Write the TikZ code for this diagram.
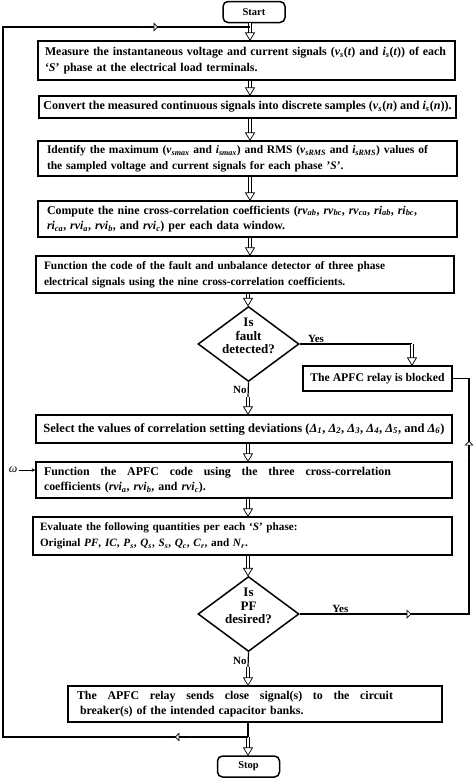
\documentclass[tikz,border=0pt]{standalone}
\usepackage{fontspec}
\setmainfont{Liberation Serif}
\usetikzlibrary{decorations.markings,shapes.geometric,shapes.arrows,arrows.meta}
\newcommand{\sbx}[2]{\textit{#1}\textsubscript{\textit{#2}}}
\newcommand{\jline}[2]{\makebox[#1][s]{\spaceskip=0pt\relax #2}}
\tikzset{
  every node/.style={font=\bfseries\fontsize{11.9}{15.5}\selectfont},
  procbox/.style={draw, line width=1.5pt, fill=white, inner xsep=7pt, inner ysep=1pt, align=left},
  onebox/.style={draw, line width=1.5pt, fill=white, inner sep=1pt, align=center},
  terminal/.style={draw, rounded corners=5pt, line width=1.5pt, fill=white, minimum width=62pt, minimum height=21pt, inner sep=0pt, font=\bfseries\fontsize{10.5}{12}\selectfont},
  decision/.style={diamond, draw, line width=1.5pt, fill=white, minimum width=101pt, minimum height=75pt, inner sep=0pt},
  dtext/.style={align=center, inner sep=0pt, font=\bfseries\fontsize{13}{13.8}\selectfont},
  conn/.style={draw, line width=1.2pt},
  flow/.style={preaction={draw, double=white, double distance=2.4pt, line width=0.7pt, shorten >=5pt},
    postaction={decorate, decoration={markings, mark=at position 1 with {\draw[line width=0.7pt, fill=white] (-7.5pt,-4.5pt) -- (0pt,0pt) -- (-7.5pt,4.5pt) -- cycle;}}}},
  midarr/.style={single arrow, draw, fill=white, line width=0.7pt, minimum height=15pt, minimum width=7.5pt, single arrow head extend=2.2pt, inner sep=0pt},
  lab/.style={inner sep=1pt, font=\bfseries\fontsize{11}{12}\selectfont},
}
\begin{document}
\begin{tikzpicture}[x=1pt,y=-1pt]
\useasboundingbox (0,0) rectangle (474,779);
\fill[white] (0,0) rectangle (474,779);

\coordinate (c1) at (250,0);
\coordinate (c2) at (248,0);
\coordinate (cL) at (3,0);
\coordinate (cR) at (469,0);
\coordinate (yx) at (412,0);
\coordinate (jT) at (250,27);
\coordinate (jB) at (248,737);
\coordinate (nd1) at (248,397);
\coordinate (nd2) at (248,667);

\node[terminal] (start) at (254,12) {Start};

\node[procbox, minimum width=417pt, minimum height=39pt, text width=403pt] (b1) at (246.5,60.5)
 {Measure the instantaneous voltage and current signals (\sbx{v}{s}(\textit{t}) and \sbx{i}{s}(\textit{t})) of each\\
 ‘\textit{S}’ phase at the electrical load terminals.};

\node[onebox, minimum width=417pt, minimum height=22pt, font=\bfseries\fontsize{12.1}{15}\selectfont] (b2) at (247.5,107)
 {Convert the measured continuous signals into discrete samples (\sbx{v}{s}(\textit{n}) and \sbx{i}{s}(\textit{n})).};

\node[procbox, inner xsep=9pt, minimum width=419pt, minimum height=35pt, text width=401pt, font=\bfseries\fontsize{11.5}{15.5}\selectfont] (b3) at (247.5,158.5)
 {Identify the maximum (\sbx{v}{smax} and \sbx{i}{smax}) and RMS (\sbx{v}{sRMS} and \sbx{i}{sRMS}) values of\\
 the sampled voltage and current signals for each phase ’\textit{S}’.};

\node[procbox, inner xsep=9pt, minimum width=419pt, minimum height=36pt, text width=401pt] (b4) at (247.5,219)
 {Compute the nine cross-correlation coefficients (\sbx{rv}{ab}, \sbx{rv}{bc}, \sbx{rv}{ca}, \sbx{ri}{ab}, \sbx{ri}{bc},\\
 \sbx{ri}{ca}, \sbx{rvi}{a}, \sbx{rvi}{b}, and \sbx{rvi}{c}) per each data window.};

\node[procbox, inner xsep=8pt, minimum width=418pt, minimum height=37pt, text width=402pt, font=\bfseries\fontsize{11.4}{15.5}\selectfont] (b5) at (245,274.5)
 {Function the code of the fault and unbalance detector of three phase\\
 electrical signals using the nine cross-correlation coefficients.};

\node[decision] (d1) at (248.5,344) {};
\node[dtext] (t1) at (248.5,336) {Is\\fault\\detected?};

\node[onebox, minimum width=149pt, minimum height=25pt, font=\bfseries\fontsize{11.7}{14}\selectfont] (relay) at (377.5,378.5) {The APFC relay is blocked};

\node[onebox, minimum width=416pt, minimum height=28pt, font=\bfseries\fontsize{12.5}{15}\selectfont] (b6) at (244,429)
 {Select the values of correlation setting deviations (\sbx{Δ}{1}, \sbx{Δ}{2}, \sbx{Δ}{3}, \sbx{Δ}{4}, \sbx{Δ}{5}, and \sbx{Δ}{6})};

\node[procbox, inner xsep=8pt, minimum width=416pt, minimum height=36pt, text width=400pt] (b7) at (244,480)
 {\jline{347pt}{Function the APFC code using the three cross-correlation}\\
 coefficients (\sbx{rvi}{a}, \sbx{rvi}{b}, and \sbx{rvi}{c}).};

\node[procbox, minimum width=419pt, minimum height=38pt, text width=405pt, font=\bfseries\fontsize{11.2}{15.5}\selectfont] (b8) at (242.5,536)
 {Evaluate the following quantities per each ‘\textit{S}’ phase:\\
 Original \textit{PF}, \textit{IC}, \sbx{P}{s}, \sbx{Q}{s}, \sbx{S}{s}, \sbx{Q}{c}, \sbx{C}{r}, and \sbx{N}{r}.};

\node[decision] (d2) at (248.5,614) {};
\node[dtext] (t2) at (248.5,606) {Is\\PF\\desired?};

\node[procbox, inner xsep=9pt, minimum width=374pt, minimum height=36pt, text width=356pt] (b9) at (255,704)
 {\jline{316pt}{The APFC relay sends close signal(s) to the circuit}\\
 \hspace*{3pt}breaker(s) of the intended capacitor banks.};

\node[terminal] (stop) at (248.5,766.5) {Stop};

\node[inner sep=0pt, font=\itshape\fontsize{12}{12}\selectfont] (om) at (13,470) {ω};

% main flow
\path[flow] (start.south -| c1) -- (b1.north -| c1);
\path[flow] (b1.south -| c1) -- (b2.north -| c1);
\path[flow] (b2.south -| c1) -- (b3.north -| c1);
\path[flow] (b3.south -| c1) -- (b4.north -| c1);
\path[flow] (b4.south -| c1) -- (b5.north -| c1);
\path[flow] (b5.south -| c2) -- (d1.north -| c2);
\draw[conn] (d1.south) -- node[lab, left, pos=0.55] (no1) {No} (nd1);
\path[flow] (nd1) -- (b6.north -| c2);
\draw[conn] (d1.east) -- node[lab, above right, pos=0.06] (yes1) {Yes} (d1.east -| yx);
\path[flow] (d1.east -| yx) -- (relay.north -| yx);
\path[flow] (b6.south -| c2) -- (b7.north -| c2);
\path[flow] (b7.south -| c2) -- (b8.north -| c2);
\path[flow] (b8.south -| c2) -- (d2.north -| c2);
\draw[conn] (d2.south) -- node[lab, left, pos=0.6] (no2) {No} (nd2);
\path[flow] (nd2) -- (b9.north -| c2);
\draw[conn] (b9.south -| c2) -- (jB);
\path[flow] (jB) -- (stop.north -| jB);

% right loop
\draw[conn] (d2.east) -- node[lab, above, pos=0.24] (yes2) {Yes}
  node[midarr, pos=0.61] (ar1) {} (d2.east -| cR)
  -- node[midarr, shape border rotate=90, pos=0.70] (ar2) {} (relay.east -| cR) -- (relay.east);

% left loop
\draw[conn] (jB) -- node[midarr, shape border rotate=180, pos=0.265] (ar3) {} (jB -| cL)
  -- (jT -| cL) -- node[midarr, pos=0.595] (ar4) {} (jT);
\draw[line width=2.4pt] (jB -| cL) -- (jT -| cL);

% omega input
\draw[line width=0.8pt, -{Stealth[length=3.5pt,width=3.5pt]}] (om.east) ++(2pt,0) -- (b7.west |- om);
\end{tikzpicture}
\end{document}
